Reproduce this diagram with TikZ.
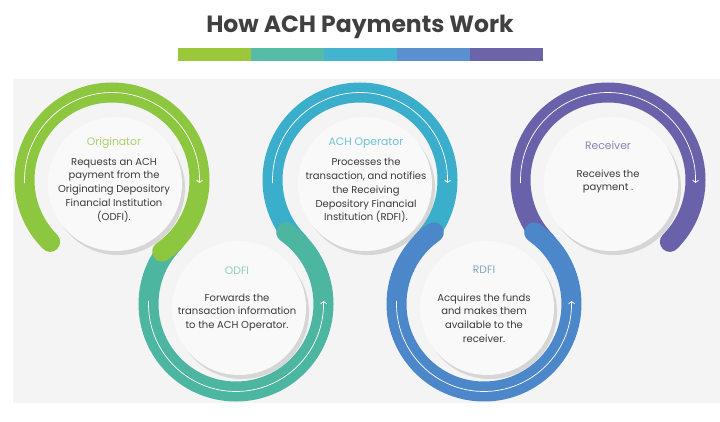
\documentclass[tikz,border=0pt]{standalone}
\usepackage{fontspec}
\setmainfont{Poppins}
\usetikzlibrary{positioning,shadows,arrows.meta}

\definecolor{panel}{HTML}{F4F4F4}
\definecolor{titletext}{HTML}{404040}
\definecolor{bodytext}{HTML}{3A3A3A}
\definecolor{discfill}{HTML}{F9F9F9}
\definecolor{ringgreen}{HTML}{8DC63F}
\definecolor{ringteal}{HTML}{4DB6A0}
\definecolor{ringcyan}{HTML}{3AAECA}
\definecolor{ringblue}{HTML}{4C87C9}
\definecolor{ringpurple}{HTML}{6962AA}
\definecolor{bargreen}{HTML}{9BC83B}
\definecolor{barteal}{HTML}{56BBA7}
\definecolor{barcyan}{HTML}{43B3D0}
\definecolor{barblue}{HTML}{5A8FD0}
\definecolor{barpurple}{HTML}{6C64A9}
\definecolor{headgreen}{HTML}{A9D16B}
\definecolor{headteal}{HTML}{8FD0C4}
\definecolor{headcyan}{HTML}{6CC3D8}
\definecolor{headblue}{HTML}{8AA5C8}
\definecolor{headpurple}{HTML}{8A86B5}

\tikzset{
  title/.style={font=\fontsize{23.5}{28}\selectfont\bfseries, text=titletext, anchor=base},
  ring/.style={line width=20pt, line cap=round},
  flow/.style={draw=white, line width=0.7pt, -{Straight Barb[length=2.5pt,width=6pt]}},
  disc/.style={circle, minimum size=134pt, inner sep=0pt, fill=discfill,
    drop shadow={shadow xshift=3pt, shadow yshift=-4pt, opacity=0.25}},
  head/.style={font=\fontsize{10.8}{12}\selectfont},
  body/.style={font=\fontsize{10}{13.8}\selectfont, align=center, text=bodytext, inner sep=0pt},
}

\begin{document}
\begin{tikzpicture}[x=1pt,y=1pt]
      % \draw[help lines,step=20] (0,0) grid (720,421);

      % Bounding box
      \useasboundingbox (0,0) rectangle (720,421);
      \fill[white] (0,0) rectangle (720,421);
      \fill[panel] (13,18) rectangle (720,342);

      \node[title] (title) at (360,388) {How ACH Payments Work};

      \fill[bargreen] (178,360) rectangle (251,373);
      \fill[barteal] (251,360) rectangle (324,373);
      \fill[barcyan] (324,360) rectangle (397,373);
      \fill[barblue] (397,360) rectangle (470,373);
      \fill[barpurple] (470,360) rectangle (543,373);

      \coordinate (orig) at (112,241);
      \coordinate (odfi) at (236,117);
      \coordinate (achop) at (360,241);
      \coordinate (rdfi) at (484,117);
      \coordinate (recv) at (608,241);

      % rings, back to front
      \draw[ring,ringcyan] (achop) ++(225:87.5) arc[start angle=225,end angle=-45,radius=87.5];
      \draw[ring,ringpurple] (recv) ++(225:87.5) arc[start angle=225,end angle=-45,radius=87.5];
      \draw[ring,ringteal] (odfi) ++(135:87.5) arc[start angle=135,end angle=415,radius=87.5];
      \draw[ring,ringgreen] (orig) ++(225:87.5) arc[start angle=225,end angle=-55,radius=87.5];
      \draw[ring,ringblue] (rdfi) ++(125:87.5) arc[start angle=125,end angle=415,radius=87.5];

      \draw[flow] (orig) ++(182:87.5) arc[start angle=182,end angle=-2,radius=87.5];
      \draw[flow] (odfi) ++(178:87.5) arc[start angle=178,end angle=362,radius=87.5];
      \draw[flow] (achop) ++(182:87.5) arc[start angle=182,end angle=-2,radius=87.5];
      \draw[flow] (rdfi) ++(178:87.5) arc[start angle=178,end angle=362,radius=87.5];
      \draw[flow] (recv) ++(182:87.5) arc[start angle=182,end angle=-2,radius=87.5];

      \node[disc] (origdisc) at (115,237) {};
      \node[disc] (odfidisc) at (239,113) {};
      \node[disc] (achopdisc) at (365,237) {};
      \node[disc] (rdfidisc) at (487,113) {};
      \node[disc] (recvdisc) at (611,237) {};

      \node[head,text=headgreen] (origname) at (114,278) {Originator};
      \node[body] (origtext) at (114,231) {Requests an ACH\\payment from the\\Originating Depository\\Financial Institution\\(ODFI).};

      \node[head,text=headteal] (odfiname) at (237,150) {ODFI};
      \node[body] (odfitext) at (237,108.5) {Forwards the\\transaction information\\to the ACH Operator.};

      \node[head,text=headcyan] (achopname) at (366,278) {ACH Operator};
      \node[body] (achoptext) at (366,230.5) {Processes the\\transaction, and notifies\\the Receiving\\Depository Financial\\Institution (RDFI).};

      \node[head,text=headblue] (rdfiname) at (484,151) {RDFI};
      \node[body] (rdfitext) at (484,103) {Acquires the funds\\and makes them\\available to the\\receiver.};

      \node[head,text=headpurple] (recvname) at (608,276) {Receiver};
      \node[body] (recvtext) at (608,239.5) {Receives the\\payment .};
    \end{tikzpicture}
\end{document}
